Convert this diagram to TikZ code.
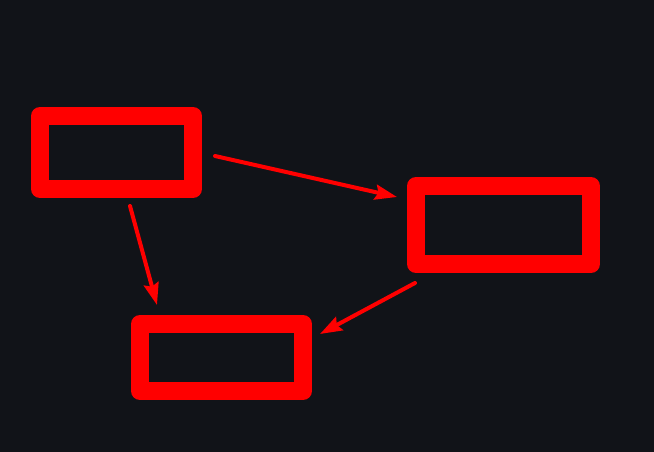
\documentclass[tikz,border=0pt]{standalone}
\usepackage{tikz}
\usetikzlibrary{arrows.meta}
\definecolor{bgdark}{RGB}{17,19,24}
\definecolor{boxred}{RGB}{255,0,0}

\begin{document}
\begin{tikzpicture}[x = 1pt, y = -1pt,
    redbox/.style = {draw = boxred, line width = 18pt, line join = round, inner sep = 0pt},
    redarrow/.style = {draw = boxred, line width = 4pt, line cap = round, -{Stealth[length = 22pt, width = 15pt, inset = 3pt]}}]
    \fill[bgdark] (0,0) rectangle (654,452);
    \useasboundingbox (0,0) rectangle (654,452);
    \node[redbox, minimum width = 153pt, minimum height = 73pt] (top) at (116.5,152.5) {};
    \node[redbox, minimum width = 175pt, minimum height = 78pt] (right) at (503.5,225) {};
    \node[redbox, minimum width = 163pt, minimum height = 67pt] (bottom) at (221.5,357.5) {};
    \draw[redarrow] ([shift = {(13,3.5)}]top.east) -- ([shift = {(-10,-28)}]right.west);
    \draw[redarrow] ([shift = {(13.5,8)}]top.south) -- ([shift = {(26,-10)}]bottom.north west);
    \draw[redarrow] ([shift = {(8,10)}]right.south west) -- ([shift = {(8,19)}]bottom.north east);
\end{tikzpicture}
\end{document}
